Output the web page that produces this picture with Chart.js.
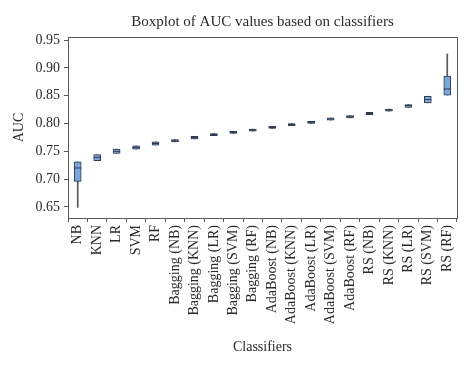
<!DOCTYPE html>
<html>
<head>
<meta charset="utf-8">
<script src="https://cdn.jsdelivr.net/npm/chart.js@4.4.1/dist/chart.umd.min.js"></script>
<style>
  html, body { margin: 0; padding: 0; background: #fff; }
  #wrap { width: 474px; height: 369px; }
</style>
</head>
<body>
<div id="wrap"><canvas id="boxChart" width="474" height="369"></canvas></div>
<script>
// =========================
// DATA
// =========================
const classifiers = [
    "NB", "KNN", "LR", "SVM", "RF",
    "Bagging (NB)", "Bagging (KNN)", "Bagging (LR)", "Bagging (SVM)", "Bagging (RF)",
    "AdaBoost (NB)", "AdaBoost (KNN)", "AdaBoost (LR)", "AdaBoost (SVM)", "AdaBoost (RF)",
    "RS (NB)", "RS (KNN)", "RS (LR)", "RS (SVM)", "RS (RF)"
];
const q1 = [0.696, 0.733, 0.746, 0.754, 0.761, 0.767, 0.772, 0.778, 0.782, 0.786,
            0.791, 0.796, 0.800, 0.806, 0.810, 0.816, 0.822, 0.829, 0.837, 0.851];
const medians = [0.720, 0.739, 0.750, 0.757, 0.764, 0.769, 0.775, 0.780, 0.784, 0.788,
                 0.793, 0.798, 0.802, 0.808, 0.812, 0.818, 0.824, 0.832, 0.843, 0.862];
const q3 = [0.731, 0.744, 0.754, 0.760, 0.767, 0.771, 0.777, 0.782, 0.786, 0.790,
            0.795, 0.800, 0.804, 0.810, 0.814, 0.820, 0.826, 0.834, 0.849, 0.885];
const whiskerLow = [0.649, 0.733, 0.746, 0.754, 0.761, 0.767, 0.772, 0.778, 0.782, 0.786,
                    0.791, 0.796, 0.800, 0.806, 0.810, 0.816, 0.822, 0.829, 0.837, 0.851];
const whiskerHigh = [0.731, 0.744, 0.754, 0.760, 0.767, 0.771, 0.777, 0.782, 0.786, 0.790,
                     0.795, 0.800, 0.804, 0.810, 0.814, 0.820, 0.826, 0.834, 0.849, 0.925];
const yTicks = [0.65, 0.70, 0.75, 0.80, 0.85, 0.90, 0.95];

// =========================
// STYLE
// =========================
const serif = "'Liberation Serif', 'DejaVu Serif', serif";
const frameColor = "#5a5a5a";
const textColor = "#2a2a2a";
const boxFill = "#7da6dc";
const boxEdge = "#2e3a50";

const boxes = classifiers.map((c, i) => [q1[i], q3[i]]);
const whiskers = classifiers.map((c, i) => [whiskerLow[i], whiskerHigh[i]]);

// =========================
// CHART
// =========================
new Chart(document.getElementById("boxChart"), {
    type: "bar",
    data: {
        labels: classifiers,
        datasets: [
            {
                label: "whisker",
                data: whiskers,
                backgroundColor: "#555",
                barThickness: 1,
                grouped: false,
                order: 3
            },
            {
                label: "box",
                data: boxes,
                backgroundColor: boxFill,
                borderColor: boxEdge,
                borderWidth: 1,
                borderSkipped: false,
                barThickness: 7,
                grouped: false,
                order: 2
            },
            {
                type: "line",
                label: "median",
                data: medians,
                showLine: false,
                pointStyle: "line",
                pointRadius: 3.5,
                pointBorderColor: boxEdge,
                pointBorderWidth: 1,
                order: 1
            }
        ]
    },
    options: {
        responsive: false,
        animation: false,
        devicePixelRatio: 1,
        layout: { padding: 0 },
        plugins: {
            legend: { display: false },
            tooltip: { enabled: false }
        },
        scales: {
            x: {
                position: "bottom",
                offset: true,
                grid: { drawOnChartArea: false, drawTicks: true, tickLength: 4, color: frameColor },
                border: { color: frameColor, width: 1 },
                ticks: {
                    autoSkip: false,
                    minRotation: 90,
                    maxRotation: 90,
                    padding: 3,
                    color: textColor,
                    font: { family: serif, size: 14 }
                },
                title: {
                    display: true,
                    text: "Classifiers",
                    color: textColor,
                    font: { family: serif, size: 14 },
                    padding: { top: 0, bottom: 13 }
                },
                afterFit: s => { s.height = 151; }
            },
            x2: {
                position: "top",
                type: "category",
                labels: classifiers,
                offset: true,
                grid: { display: false },
                border: { color: frameColor, width: 1 },
                ticks: { display: false },
                title: {
                    display: true,
                    text: "Boxplot of AUC values based on classifiers",
                    color: textColor,
                    font: { family: serif, size: 15 },
                    padding: { top: 13, bottom: 0 }
                },
                afterFit: s => { s.height = 37; }
            },
            y: {
                position: "left",
                min: 0.63,
                max: 0.9555,
                afterBuildTicks: s => { s.ticks = yTicks.map(v => ({ value: v })); },
                grid: { drawOnChartArea: false, drawTicks: true, tickLength: 4, color: frameColor },
                border: { color: frameColor, width: 1 },
                ticks: {
                    padding: 4,
                    color: textColor,
                    font: { family: serif, size: 14 },
                    callback: v => Number(v).toFixed(2)
                },
                title: {
                    display: true,
                    text: "AUC",
                    color: textColor,
                    font: { family: serif, size: 14 },
                    padding: { top: 11, bottom: 0 }
                },
                afterFit: s => { s.width = 68; }
            },
            y2: {
                position: "right",
                type: "linear",
                min: 0.63,
                max: 0.9555,
                grid: { display: false },
                border: { color: frameColor, width: 1 },
                ticks: { display: false },
                afterFit: s => { s.width = 17; }
            }
        }
    }
});
</script>
</body>
</html>
